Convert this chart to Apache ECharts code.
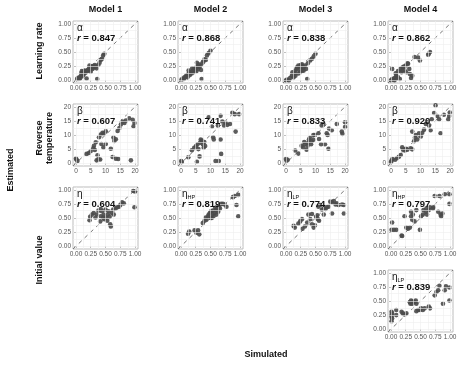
<!DOCTYPE html>
<html><head><meta charset="utf-8">
<script src="https://cdn.jsdelivr.net/npm/echarts@6/dist/echarts.min.js"></script>
<style>html,body{margin:0;padding:0;background:#fff}#c{width:474px;height:365px}</style>
</head><body><div id="c"></div>
<script>
// ---------------- data ----------------
const models = ['Model 1', 'Model 2', 'Model 3', 'Model 4'];
const rowLabels = ['Learning rate', 'Reverse\ntemperature', 'Initial value'];
const ticks01 = [0, 0.25, 0.5, 0.75, 1];
const ticks20 = [0, 5, 10, 15, 20];
const minor01 = [0.125, 0.375, 0.625, 0.875];
const minor20 = [2.5, 7.5, 12.5, 17.5];

const alphaM1 = [[0.02,0.02],[0.03,0.04],[0.05,0.02],[0.06,0.05],[0.08,0.07],[0.09,0.12],[0.10,0.16],[0.12,0.14],[0.13,0.10],[0.15,0.17],[0.16,0.13],[0.18,0.03],[0.19,0.16],[0.20,0.18],[0.22,0.21],[0.24,0.19],[0.25,0.15],[0.26,0.24],[0.28,0.20],[0.29,0.25],[0.30,0.22],[0.32,0.27],[0.33,0.24],[0.35,0.21],[0.36,0.02],[0.38,0.27],[0.40,0.31],[0.42,0.36],[0.44,0.38],[0.46,0.44],[0.48,0.47],[0.07,0.03],[0.11,0.07],[0.23,0.26],[0.14,0.16]];
const alphaM2 = [[0.01,0.01],[0.03,0.03],[0.05,0.02],[0.06,0.05],[0.08,0.06],[0.09,0.08],[0.11,0.05],[0.12,0.10],[0.14,0.13],[0.15,0.09],[0.17,0.15],[0.18,0.12],[0.20,0.17],[0.21,0.14],[0.22,0.20],[0.24,0.18],[0.25,0.22],[0.26,0.16],[0.28,0.24],[0.29,0.20],[0.30,0.28],[0.31,0.23],[0.33,0.26],[0.34,0.18],[0.35,0.02],[0.36,0.30],[0.38,0.33],[0.40,0.37],[0.42,0.36],[0.44,0.44],[0.47,0.48],[0.50,0.52],[0.13,0.17],[0.19,0.21],[0.27,0.31]];
const alphaM3 = [[0.00,0.00],[0.02,0.01],[0.05,0.00],[0.07,0.04],[0.10,0.08],[0.11,0.14],[0.13,0.05],[0.15,0.12],[0.16,0.17],[0.19,0.23],[0.21,0.26],[0.23,0.20],[0.24,0.14],[0.26,0.23],[0.27,0.28],[0.28,0.17],[0.30,0.23],[0.32,0.26],[0.34,0.20],[0.36,0.02],[0.37,0.30],[0.41,0.35],[0.44,0.38],[0.47,0.42],[0.50,0.47],[0.30,0.17],[0.21,0.12],[0.16,0.08],[0.18,0.20],[0.25,0.27]];
const alphaM4 = [[0.00,0.00],[0.02,0.02],[0.05,0.01],[0.02,0.20],[0.06,0.04],[0.09,0.08],[0.12,0.05],[0.15,0.02],[0.08,0.12],[0.12,0.16],[0.16,0.20],[0.18,0.14],[0.20,0.23],[0.23,0.18],[0.25,0.26],[0.26,0.14],[0.29,0.29],[0.31,0.20],[0.32,0.11],[0.34,0.04],[0.36,0.08],[0.40,0.41],[0.46,0.40],[0.49,0.35],[0.64,0.47],[0.66,0.50],[0.63,0.45],[0.19,0.17],[0.06,0.00],[0.28,0.30],[0.22,0.24],[0.10,0.03]];

const betaM1 = [[0.2,1.3],[0.5,0.8],[0,1.6],[3.6,3.3],[4.4,3.6],[5,4.3],[5.9,5.4],[6.1,6.2],[6.7,7.4],[6.4,4.7],[7.3,2.8],[7,1],[7.6,1.4],[8.2,1.3],[7.8,9.2],[8.4,10.2],[9,10.8],[9.5,10.5],[8.6,6.8],[9.3,5.6],[10.1,6.8],[11.8,5.1],[13,7.9],[13.5,8.5],[14.1,11.4],[14.7,12.5],[15.2,13.7],[15.8,14.8],[16.4,14.3],[16.9,15.1],[12.4,2.2],[13.5,1.6],[14.3,1.5],[18.6,1],[19.2,15.4],[19.8,14.3],[19.5,13.1],[18,15.9],[10.1,11.3],[12.7,9.1]];
const betaM2 = [[0.1,0.8],[0.3,0.4],[2.5,2.1],[3.7,4.6],[4.5,5.5],[5.1,6.1],[5.6,6.7],[5.9,5],[6.3,2.4],[5.4,0.5],[6.5,7.3],[7.1,8],[7.4,6.7],[7.7,5.5],[8.2,6.1],[6.7,8.4],[7.9,7.5],[9.4,16.3],[10.9,9.2],[11.1,8.4],[11.7,0.8],[12.8,0.8],[13.4,8.4],[13.6,3.3],[12.5,13.4],[13.4,16.8],[14,14.8],[14.6,13.4],[15.1,14.3],[15.7,13.6],[16.6,13.9],[17.4,17.9],[18.2,17.4],[19.7,17.4],[18.5,11.2],[10.5,13]];
const betaM3 = [[0,1.5],[0.2,0.9],[0.6,1.2],[3.1,4.5],[4.2,3.4],[5.3,6.2],[5.9,5.6],[6.4,6.7],[6.2,7.5],[7,4.8],[7.3,6.2],[7.6,7.3],[7.8,8.4],[8.1,9],[8.5,6.7],[8.7,7.8],[9.3,10],[9.8,10],[11,10.6],[11.2,8.6],[11.9,6.7],[13.2,6.7],[13.8,10.6],[14.1,10],[14.4,5.1],[14.6,12.3],[15.5,11.7],[12.1,13.4],[12.7,13.9],[17.2,13.9],[18.9,11.2],[19.1,10.4],[20,12.8],[20,14.5],[9.3,8.3]];
const betaM4 = [[0,0.4],[0.2,0.9],[0.5,1.5],[1.4,1.2],[2.1,1.8],[2.7,2.3],[3.3,2.9],[4.1,4.8],[4.7,4.5],[5.5,4.8],[5,5.1],[3.8,5.6],[6.7,5.3],[7.2,4.9],[7.8,7.8],[8.1,9],[8.4,10],[8.9,8.4],[9.5,10.6],[10.1,9.5],[10.6,10.8],[11.2,11.9],[12.3,14.5],[12.9,13.4],[13.4,11.7],[13.8,15.6],[14.6,17.8],[15.1,20.5],[15.7,16.7],[16.3,15.6],[16.8,10.6],[17.9,17.2],[19.7,16.7],[19.9,18],[19.4,15.6],[7.2,11.2],[11.8,13.9]];

const etaM1 = [[0.23,0.46],[0.24,0.52],[0.27,0.56],[0.30,0.59],[0.35,0.56],[0.38,0.63],[0.41,0.44],[0.42,0.53],[0.44,0.62],[0.47,0.56],[0.50,0.65],[0.51,0.51],[0.53,0.45],[0.54,0.56],[0.55,0.62],[0.57,0.52],[0.58,0.39],[0.59,0.35],[0.61,0.59],[0.63,0.65],[0.64,0.56],[0.67,0.67],[0.70,0.69],[0.73,0.70],[0.78,0.78],[0.81,0.76],[0.75,0.73],[0.97,0.98],[1.00,0.97],[0.99,0.69],[0.48,0.48],[0.46,0.51],[0.33,0.51],[0.42,0.66]];
const etaHPM2 = [[0.12,0.22],[0.14,0.26],[0.23,0.28],[0.26,0.24],[0.31,0.21],[0.29,0.28],[0.37,0.41],[0.40,0.45],[0.43,0.47],[0.42,0.51],[0.46,0.53],[0.47,0.56],[0.49,0.59],[0.50,0.50],[0.51,0.62],[0.53,0.56],[0.54,0.63],[0.55,0.53],[0.57,0.59],[0.59,0.64],[0.60,0.56],[0.61,0.67],[0.63,0.61],[0.64,0.70],[0.66,0.67],[0.68,0.75],[0.71,0.75],[0.74,0.74],[0.77,0.70],[0.88,0.87],[0.91,0.89],[0.97,0.91],[0.94,0.73],[0.97,0.53],[0.52,0.50],[0.58,0.68]];
const etaLPM3 = [[0.13,0.36],[0.15,0.33],[0.21,0.40],[0.24,0.44],[0.27,0.48],[0.28,0.31],[0.32,0.35],[0.36,0.42],[0.38,0.56],[0.41,0.48],[0.44,0.39],[0.49,0.37],[0.51,0.52],[0.53,0.55],[0.54,0.48],[0.56,0.45],[0.55,0.70],[0.58,0.73],[0.61,0.65],[0.64,0.67],[0.67,0.66],[0.69,0.69],[0.72,0.70],[0.75,0.79],[0.78,0.78],[0.81,0.80],[0.84,0.74],[0.86,0.76],[0.89,0.73],[0.95,0.74],[0.98,0.73],[0.98,0.58],[0.78,0.58],[0.64,0.56],[0.47,0.33],[0.44,0.57]];
const etaHPM4 = [[0.02,0.42],[0.01,0.29],[0.05,0.29],[0.09,0.29],[0.18,0.19],[0.19,0.18],[0.23,0.53],[0.26,0.33],[0.29,0.31],[0.32,0.33],[0.34,0.61],[0.34,0.53],[0.37,0.56],[0.36,0.47],[0.40,0.44],[0.43,0.64],[0.49,0.29],[0.51,0.53],[0.54,0.56],[0.55,0.64],[0.59,0.61],[0.60,0.67],[0.61,0.56],[0.64,0.64],[0.66,0.69],[0.71,0.67],[0.74,0.89],[0.80,0.61],[0.82,0.89],[0.84,0.56],[0.87,0.58],[0.91,0.92],[0.85,0.53],[0.99,0.92],[0.99,0.75],[0.72,0.69]];
const etaLPM4 = [[0.01,0.31],[0.01,0.25],[0.01,0.22],[0.02,0.28],[0.01,0.14],[0.02,0.19],[0.09,0.34],[0.09,0.25],[0.18,0.31],[0.20,0.28],[0.23,0.26],[0.26,0.28],[0.32,0.48],[0.34,0.51],[0.36,0.45],[0.37,0.49],[0.40,0.48],[0.42,0.51],[0.43,0.45],[0.43,0.32],[0.46,0.34],[0.49,0.34],[0.51,0.37],[0.54,0.34],[0.57,0.37],[0.64,0.40],[0.66,0.37],[0.74,0.60],[0.77,0.66],[0.80,0.69],[0.82,0.77],[0.88,0.45],[0.91,0.69],[0.93,0.76],[0.99,0.74],[0.99,0.51],[0.33,0.45]];

// panel list: row, col, data, parameter symbol (rich), r
const panels = [
  {row:0,col:0,data:alphaM1,sym:'{g|α}',r:'0.847',scale:1},
  {row:0,col:1,data:alphaM2,sym:'{g|α}',r:'0.868',scale:1},
  {row:0,col:2,data:alphaM3,sym:'{g|α}',r:'0.838',scale:1},
  {row:0,col:3,data:alphaM4,sym:'{g|α}',r:'0.862',scale:1},
  {row:1,col:0,data:betaM1,sym:'{g|β}',r:'0.607',scale:20},
  {row:1,col:1,data:betaM2,sym:'{g|β}',r:'0.741',scale:20},
  {row:1,col:2,data:betaM3,sym:'{g|β}',r:'0.833',scale:20},
  {row:1,col:3,data:betaM4,sym:'{g|β}',r:'0.920',scale:20},
  {row:2,col:0,data:etaM1,sym:'{g|η}',r:'0.604',scale:1},
  {row:2,col:1,data:etaHPM2,sym:'{g|η}{s|HP}',r:'0.819',scale:1},
  {row:2,col:2,data:etaLPM3,sym:'{g|η}{s|LP}',r:'0.774',scale:1},
  {row:2,col:3,data:etaHPM4,sym:'{g|η}{s|HP}',r:'0.797',scale:1},
  {row:3,col:3,data:etaLPM4,sym:'{g|η}{s|LP}',r:'0.839',scale:1}
];

// ---------------- layout ----------------
const colLeft = [73, 178, 283, 388];
const rowTop = [21, 104, 187, 270];
const PW = 65, PH = 62;
const FONT = '"Liberation Sans", Arial, sans-serif';

const grids = [], xAxes = [], yAxes = [], series = [], graphic = [];
panels.forEach((p, i) => {
  const lo = -0.05 * p.scale, hi = 1.05 * p.scale;
  const ticks = p.scale === 1 ? ticks01 : ticks20;
  const minor = p.scale === 1 ? minor01 : minor20;
  const fmt = v => p.scale === 1 ? Number(v).toFixed(2) : String(Math.round(v));
  const L = colLeft[p.col], T = rowTop[p.row];
  grids.push({left: L, top: T, width: PW, height: PH, show: true, borderColor: '#bdbdbd', borderWidth: 1, backgroundColor: '#fff'});
  const axisCommon = {
    gridIndex: i, type: 'value', min: lo, max: hi,
    axisLine: {show: false},
    splitLine: {show: false},
    axisTick: {show: true, customValues: ticks, length: 2, lineStyle: {color: '#555', width: 0.8}},
    axisLabel: {customValues: ticks, formatter: fmt, fontSize: 6.5, color: '#555', fontFamily: FONT, margin: 2}
  };
  xAxes.push(Object.assign({}, axisCommon));
  yAxes.push(Object.assign({}, axisCommon));
  const allLines = ticks.concat(minor);
  const gl = [];
  allLines.forEach(v => { gl.push({xAxis: v}); gl.push({yAxis: v}); });
  series.push({
    type: 'line', xAxisIndex: i, yAxisIndex: i, data: [], silent: true, z: 1,
    markLine: {silent: true, symbol: 'none', label: {show: false}, animation: false,
      lineStyle: {color: '#eeeeee', width: 0.6, type: 'solid'}, data: gl}
  });
  series.push({
    type: 'line', xAxisIndex: i, yAxisIndex: i, data: [[lo, lo], [hi, hi]], showSymbol: false, silent: true, z: 2,
    lineStyle: {color: '#777', width: 1, type: [4, 4]}, animation: false
  });
  series.push({
    type: 'scatter', xAxisIndex: i, yAxisIndex: i, data: p.data, symbolSize: 4.6, z: 3,
    itemStyle: {color: '#4a4a4a', opacity: 0.9}, animation: false
  });
  graphic.push({type: 'text', left: L + 4, top: T + 2, z: 10, style: {
    text: p.sym, rich: {
      g: {fontSize: 10, fontFamily: FONT, fill: '#111', lineHeight: 11},
      s: {fontSize: 5.5, fontFamily: FONT, fill: '#111', padding: [5, 0, 0, 0], lineHeight: 11}
    }}});
  graphic.push({type: 'text', left: L + 4, top: T + 12.5, z: 10, style: {
    text: '{i|r}{b| = ' + p.r + '}', rich: {
      i: {fontSize: 9.5, fontStyle: 'italic', fontWeight: 'bold', fontFamily: FONT, fill: '#111'},
      b: {fontSize: 9.5, fontWeight: 'bold', fontFamily: FONT, fill: '#111'}
    }}});
});

// titles
models.forEach((m, c) => {
  graphic.push({type: 'text', x: colLeft[c] + PW / 2, y: 10, style: {text: m, font: 'bold 9px ' + FONT, fill: '#111', align: 'center', verticalAlign: 'middle'}});
});
const rowCenters = [51, 138, 260];
const rowX = [40, 45, 40];
rowLabels.forEach((t, r) => {
  graphic.push({type: 'text', x: rowX[r], y: rowCenters[r], rotation: Math.PI / 2,
    style: {text: t, font: 'bold 9px ' + FONT, fill: '#111', align: 'center', verticalAlign: 'middle', lineHeight: 10}});
});
graphic.push({type: 'text', x: 11, y: 170, rotation: Math.PI / 2, style: {text: 'Estimated', font: 'bold 9px ' + FONT, fill: '#111', align: 'center', verticalAlign: 'middle'}});
graphic.push({type: 'text', x: 266, y: 355, style: {text: 'Simulated', font: 'bold 9px ' + FONT, fill: '#111', align: 'center', verticalAlign: 'middle'}});

const chart = echarts.init(document.getElementById('c'), null, {renderer: 'canvas'});
chart.setOption({animation: false, backgroundColor: '#fff', grid: grids, xAxis: xAxes, yAxis: yAxes, series: series, graphic: graphic});
</script></body></html>
